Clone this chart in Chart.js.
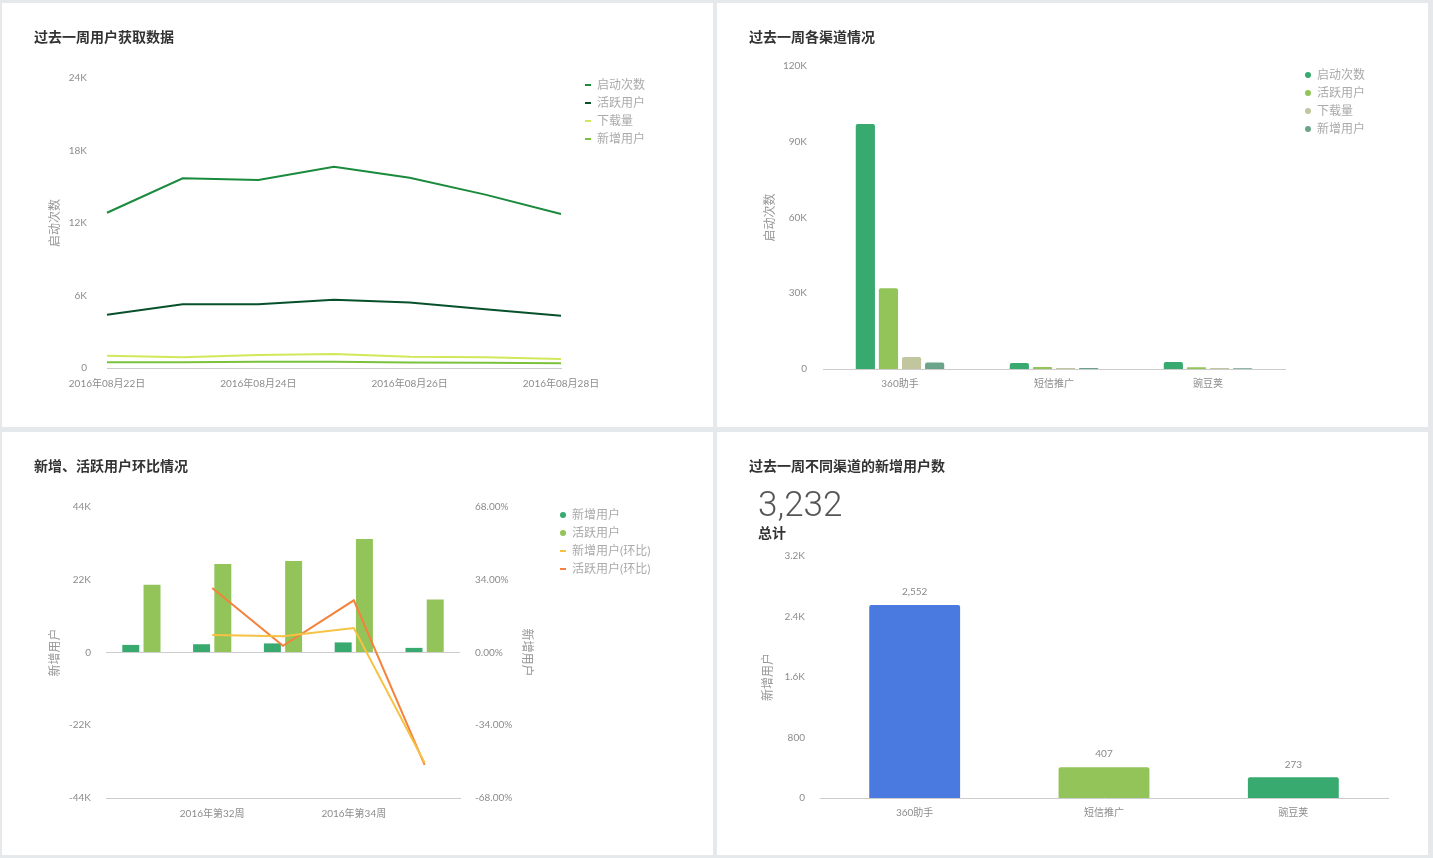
<!DOCTYPE html>
<html>
<head>
<meta charset="utf-8">
<title>用户数据看板</title>
<script src="https://cdn.jsdelivr.net/npm/chart.js@4.4.0/dist/chart.umd.min.js"></script>
<style>
  body { margin: 0; background: #e6e9ec; width: 1433px; height: 858px; overflow: hidden;
         font-family: Lato, "Noto Sans CJK SC", sans-serif; }
  .panel { position: absolute; background: #fff; }
  .panel h3 { position: absolute; left: 32px; top: 24px; margin: 0; font-size: 14px; font-weight: bold;
              color: #333; line-height: 20px; white-space: nowrap; }
  .panel canvas { position: absolute; left: 0; top: 0; }
  .total { position: absolute; left: 41px; top: 55px; font-family: Roboto, sans-serif; font-weight: 300;
           font-size: 35px; line-height: 35px; color: #555; }
  .total-label { position: absolute; left: 41px; top: 91px; font-size: 14px; font-weight: bold;
                 line-height: 20px; color: #333; }
</style>
</head>
<body>

<div class="panel" style="left:2px; top:3px; width:711px; height:424px;">
  <canvas id="c1" width="711" height="424"></canvas>
  <h3>过去一周用户获取数据</h3>
</div>
<div class="panel" style="left:717px; top:3px; width:711px; height:424px;">
  <canvas id="c2" width="711" height="424"></canvas>
  <h3>过去一周各渠道情况</h3>
</div>
<div class="panel" style="left:2px; top:432px; width:711px; height:423px;">
  <canvas id="c3" width="711" height="423"></canvas>
  <h3>新增、活跃用户环比情况</h3>
</div>
<div class="panel" style="left:717px; top:432px; width:711px; height:423px;">
  <canvas id="c4" width="711" height="423"></canvas>
  <h3>过去一周不同渠道的新增用户数</h3>
  <div class="total">3,232</div>
  <div class="total-label">总计</div>
</div>

<script>
// chart 1: 过去一周用户获取数据
const dates = ['2016年08月22日', '2016年08月23日', '2016年08月24日', '2016年08月25日',
               '2016年08月26日', '2016年08月27日', '2016年08月28日'];
const launches = [12850, 15700, 15550, 16650, 15750, 14350, 12750];
const activeUsers = [4400, 5280, 5280, 5640, 5420, 4870, 4320];
const downloads = [1020, 880, 1070, 1160, 930, 880, 740];
const newUsers = [480, 470, 520, 520, 450, 440, 400];

// chart 2: 过去一周各渠道情况
const channels = ['360助手', '短信推广', '豌豆荚'];
const chLaunches = [97000, 2400, 2800];
const chActive = [32000, 800, 700];
const chDownloads = [4800, 400, 350];
const chNew = [2552, 407, 273];

// chart 3: 新增、活跃用户环比情况
const weeks = ['2016年第31周', '2016年第32周', '2016年第33周', '2016年第34周', '2016年第35周'];
const weekNew = [2300, 2500, 2750, 3050, 1400];
const weekActive = [20500, 26800, 27700, 34300, 16000];
const weekNewRate = [null, 8.2, 7.6, 11.4, -51.5];
const weekActiveRate = [null, 30.1, 3.1, 24.4, -52.5];

// chart 4: 过去一周不同渠道的新增用户数
const channelNew = [2552, 407, 273];
const channelColors = ['#4a7ae0', '#93c45a', '#38a96f'];

Chart.defaults.font.family = 'Lato, "Noto Sans CJK SC", sans-serif';
Chart.defaults.animation = false;

const tickColor = '#8c8c8c';
const tickFont = { size: 10 };
const kLabel = v => v === 0 ? '0' : (v / 1000) + 'K';

// move the legend a bit away from the plot, like the original dashboard
const legendShift = {
  id: 'legendShift',
  afterLayout(chart, args, opts) {
    const lg = chart.legend;
    if (!lg || !opts) return;
    const dx = opts.dx || 0, dy = opts.dy || 0;
    lg.left += dx; lg.top += dy; lg.bottom += dy;
    lg.width = 160;                 // wide enough so the labels are not clipped
    lg.right = lg.left + lg.width;
  }
};

// value labels above bars (chart 4)
const barValueLabels = {
  id: 'barValueLabels',
  afterDatasetsDraw(chart) {
    const ctx = chart.ctx;
    const meta = chart.getDatasetMeta(0);
    const values = chart.data.datasets[0].data;
    ctx.save();
    ctx.font = '10px ' + Chart.defaults.font.family;
    ctx.fillStyle = '#888';
    ctx.textAlign = 'center';
    ctx.textBaseline = 'bottom';
    meta.data.forEach((bar, i) => {
      ctx.fillText(values[i].toLocaleString('en-US'), bar.x, bar.y - 8);
    });
    ctx.restore();
  }
};

function legendOpts() {
  return {
    position: 'right',
    align: 'start',
    maxWidth: 60,
    labels: {
      usePointStyle: true,
      pointStyleWidth: 6,
      boxWidth: 6,
      boxHeight: 4.3,
      padding: 6,
      color: '#aaa',
      font: { size: 12 }
    }
  };
}

function yAxis(width, titleText, titlePad, extra) {
  return Object.assign({
    border: { display: false },
    grid: { display: false, drawTicks: false },
    title: { display: true, text: titleText, color: '#999', font: { size: 12 }, padding: { top: titlePad, bottom: 0 } },
    afterFit: s => { s.width = width; }
  }, extra);
}

function xAxis(tickPad, callback) {
  const ticks = { color: tickColor, font: tickFont, padding: tickPad, autoSkip: false, maxRotation: 0 };
  if (callback) ticks.callback = callback;
  return {
    border: { display: true, color: '#ccc' },
    grid: { display: false, drawTicks: false },
    ticks: ticks,
    afterFit: s => { s.height = 40; }
  };
}

function lineSet(label, data, color) {
  return {
    label: label, data: data,
    borderColor: color, backgroundColor: color,
    pointBorderColor: color, pointBackgroundColor: color, pointBorderWidth: 2,
    borderWidth: 2, pointRadius: 0, pointStyle: 'line', tension: 0
  };
}

// chart 1
new Chart(document.getElementById('c1'), {
  type: 'line',
  data: {
    labels: dates,
    datasets: [
      lineSet('启动次数', launches, '#1a8a3c'),
      lineSet('活跃用户', activeUsers, '#07512a'),
      lineSet('下载量', downloads, '#d2e85a'),
      lineSet('新增用户', newUsers, '#7ac23c')
    ]
  },
  options: {
    responsive: false,
    layout: { padding: { left: 0, right: 92, top: 75, bottom: 19 } },
    plugins: {
      legend: legendOpts(),
      legendShift: { dx: 18, dy: -5 },
      tooltip: { enabled: false }
    },
    scales: {
      x: xAxis(10, (v, i) => i % 2 === 0 ? dates[i] : ''),
      y: yAxis(105, '启动次数', 46, {
        min: 0, max: 24000,
        ticks: { color: tickColor, font: tickFont, padding: 20, stepSize: 6000, callback: kLabel }
      })
    }
  },
  plugins: [legendShift]
});

// chart 2
function barSet(label, data, color) {
  return {
    label: label, data: data, backgroundColor: color, borderWidth: 0,
    borderRadius: { topLeft: 2, topRight: 2 }, pointStyle: 'circle',
    categoryPercentage: 0.6, barPercentage: 0.83
  };
}
new Chart(document.getElementById('c2'), {
  type: 'bar',
  data: {
    labels: channels,
    datasets: [
      barSet('启动次数', chLaunches, '#38a96f'),
      barSet('活跃用户', chActive, '#93c45a'),
      barSet('下载量', chDownloads, '#c2c69f'),
      barSet('新增用户', chNew, '#6ba38b')
    ]
  },
  options: {
    responsive: false,
    layout: { padding: { left: 0, right: 83, top: 63, bottom: 18 } },
    plugins: {
      legend: legendOpts(),
      legendShift: { dx: 14, dy: -3 },
      tooltip: { enabled: false }
    },
    scales: {
      x: xAxis(9),
      y: yAxis(106, '启动次数', 46, {
        min: 0, max: 120000,
        ticks: { color: tickColor, font: tickFont, padding: 16, stepSize: 30000, callback: kLabel }
      })
    }
  },
  plugins: [legendShift]
});

// chart 3
const leg3 = legendOpts();
leg3.labels.sort = (a, b) => a.datasetIndex - b.datasetIndex;
new Chart(document.getElementById('c3'), {
  type: 'bar',
  data: {
    labels: weeks,
    datasets: [
      { label: '新增用户', data: weekNew, backgroundColor: '#38a96f', borderWidth: 0, pointStyle: 'circle',
        yAxisID: 'y', order: 2, categoryPercentage: 0.6, barPercentage: 0.8 },
      { label: '活跃用户', data: weekActive, backgroundColor: '#93c45a', borderWidth: 0, pointStyle: 'circle',
        yAxisID: 'y', order: 2, categoryPercentage: 0.6, barPercentage: 0.8 },
      Object.assign(lineSet('新增用户(环比)', weekNewRate, '#f7c244'), { type: 'line', yAxisID: 'y1', order: 1 }),
      Object.assign(lineSet('活跃用户(环比)', weekActiveRate, '#f5823c'), { type: 'line', yAxisID: 'y1', order: 1 })
    ]
  },
  options: {
    responsive: false,
    layout: { padding: { left: 0, right: 113, top: 75, bottom: 17 } },
    plugins: {
      legend: leg3,
      legendShift: { dx: 14, dy: -4 },
      tooltip: { enabled: false }
    },
    scales: {
      x: xAxis(10, (v, i) => i % 2 === 1 ? weeks[i] : ''),
      y: yAxis(104, '新增用户', 46, {
        position: 'left', min: -44000, max: 44000,
        grid: { display: true, drawTicks: false, color: c => c.tick.value === 0 ? '#ccc' : 'rgba(0,0,0,0)' },
        ticks: { color: tickColor, font: tickFont, padding: 15, stepSize: 22000, callback: kLabel }
      }),
      y1: yAxis(80, '新增用户', 6, {
        position: 'right', min: -68, max: 68,
        ticks: { color: tickColor, font: tickFont, padding: 15, stepSize: 34, callback: v => v.toFixed(2) + '%' }
      })
    }
  },
  plugins: [legendShift]
});

// chart 4
new Chart(document.getElementById('c4'), {
  type: 'bar',
  data: {
    labels: channels,
    datasets: [{
      label: '新增用户', data: channelNew, backgroundColor: channelColors, borderWidth: 0,
      borderRadius: { topLeft: 2, topRight: 2 }, categoryPercentage: 0.8, barPercentage: 0.6
    }]
  },
  options: {
    responsive: false,
    layout: { padding: { left: 0, right: 40, top: 124, bottom: 17 } },
    plugins: { legend: { display: false }, tooltip: { enabled: false } },
    scales: {
      x: xAxis(9),
      y: yAxis(103, '新增用户', 44, {
        min: 0, max: 3200,
        ticks: { color: tickColor, font: tickFont, padding: 15, stepSize: 800,
                 callback: v => v >= 1000 ? (v / 1000) + 'K' : String(v) }
      })
    }
  },
  plugins: [barValueLabels]
});
</script>
</body>
</html>
